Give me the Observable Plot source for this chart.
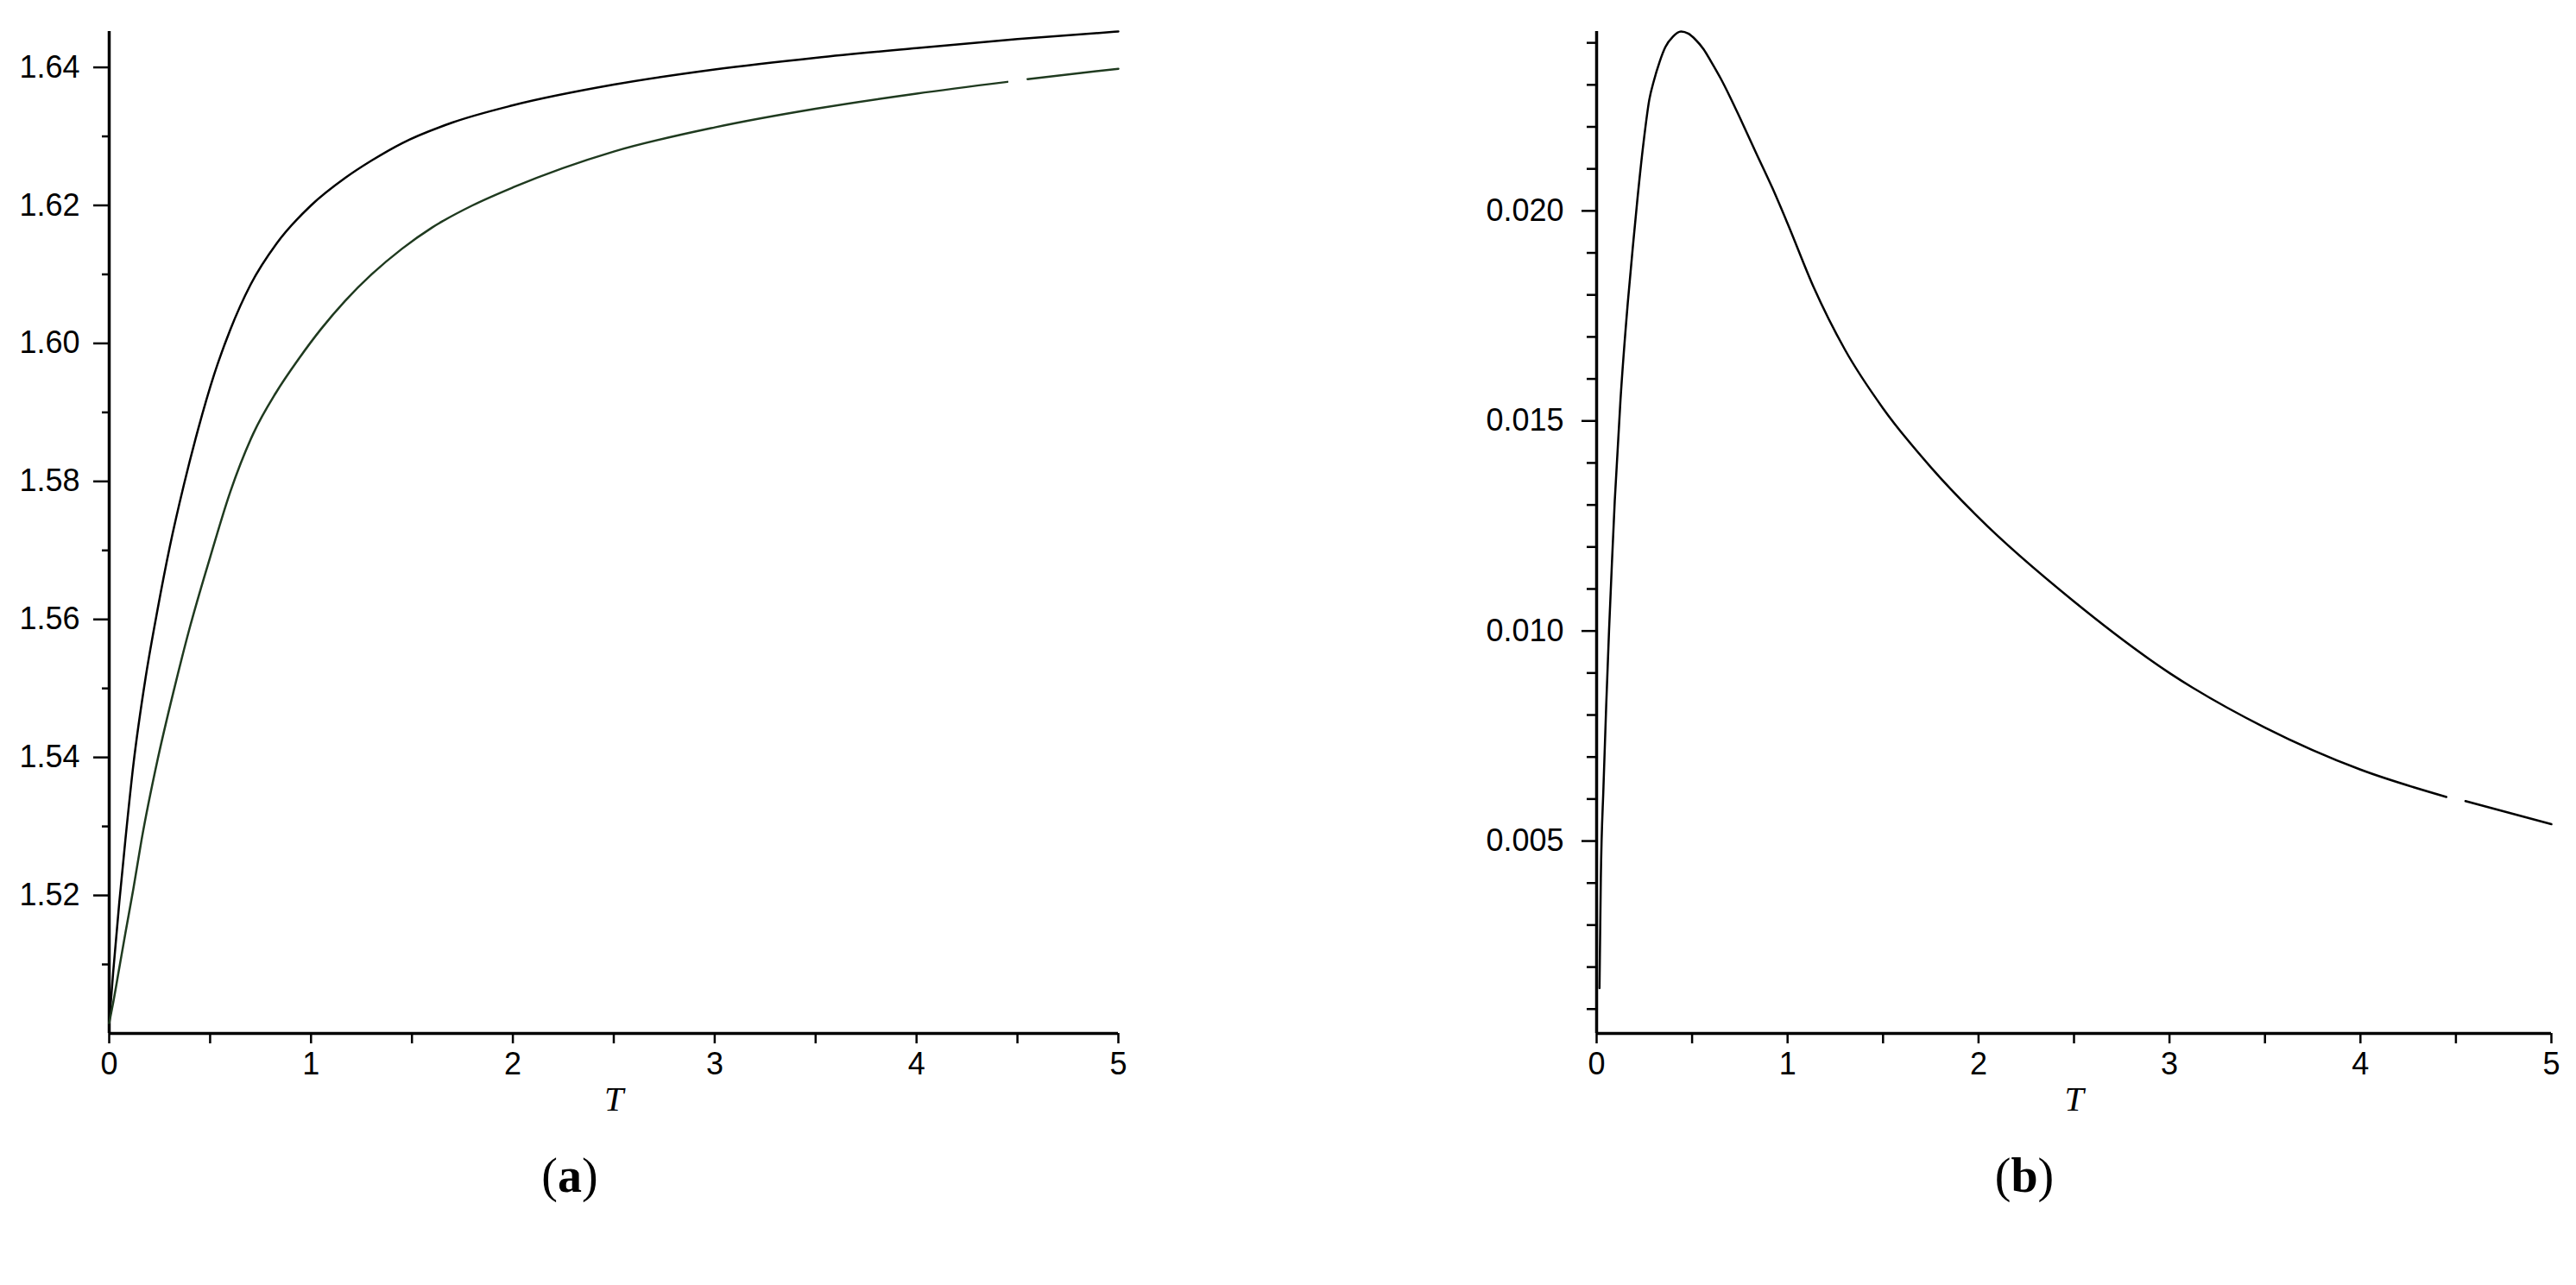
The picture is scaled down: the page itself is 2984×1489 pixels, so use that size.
<!DOCTYPE html>
<html><head><meta charset="utf-8">
<script src="https://cdn.jsdelivr.net/npm/d3@7"></script>
<script src="https://cdn.jsdelivr.net/npm/@observablehq/plot@0.6"></script>
<style>
html,body{margin:0;padding:0;background:#fff;overflow:hidden;}
#wrap{position:relative;width:2984px;height:1489px;background:#fff;overflow:hidden;}
.panel{position:absolute;top:0;}
.cap{position:absolute;font-family:"Liberation Serif","Times New Roman",serif;font-size:56px;color:#000;transform:translate(-50%,-50%);white-space:nowrap;}
</style></head><body>
<div id="wrap">
  <div id="pa" class="panel" style="left:0px"></div>
  <div id="pb" class="panel" style="left:1700px"></div>
  <div class="cap" style="left:660px;top:1362px">(<b>a</b>)</div>
  <div class="cap" style="left:2345px;top:1362px">(<b>b</b>)</div>
</div>
<script>
// ---- Panel (a): two curves vs T ----
const tUpper = [0, 0.02, 0.05, 0.08, 0.12, 0.18, 0.24, 0.30, 0.37, 0.44, 0.52, 0.60, 0.70, 0.83, 1.0, 1.17, 1.3, 1.45, 1.7, 2.0, 2.5, 3.0, 3.5, 4.0, 4.5, 5.0];
const gUpper = [1.5015, 1.509, 1.519, 1.528, 1.539, 1.5515, 1.5615, 1.5705, 1.5795, 1.5875, 1.5955, 1.6020, 1.6085, 1.6145, 1.6200, 1.6240, 1.6265, 1.6290, 1.6320, 1.6345, 1.6375, 1.6397, 1.6414, 1.6428, 1.6441, 1.6452];
const tLower = [0, 0.02, 0.05, 0.08, 0.12, 0.16, 0.24, 0.32, 0.40, 0.50, 0.60, 0.715, 0.825, 0.94, 1.05, 1.17, 1.3, 1.45, 1.6, 1.8, 2.0, 2.5, 3.0, 3.5, 4.0, 4.45, 4.5, 4.55, 5.0];
const gLower = [1.5015, 1.5045, 1.5095, 1.5145, 1.521, 1.528, 1.5397, 1.5497, 1.5589, 1.5690, 1.5785, 1.5870, 1.5928, 1.5978, 1.6021, 1.6062, 1.6100, 1.6137, 1.6168, 1.6200, 1.6226, 1.6278, 1.6313, 1.6340, 1.6362, 1.6379, null, 1.6383, 1.6398];
const aMajorTicks = [1.52, 1.54, 1.56, 1.58, 1.60, 1.62, 1.64];
const aMinorTicks = [1.51, 1.53, 1.55, 1.57, 1.59, 1.61, 1.63];
const aDomain = [1.50, 1.6452];

// ---- Panel (b): single curve vs T ----
const tB = [0.015, 0.022, 0.036, 0.05, 0.065, 0.08, 0.095, 0.125, 0.163, 0.193, 0.212, 0.245, 0.276, 0.30, 0.33, 0.36, 0.40, 0.442, 0.48, 0.517, 0.56, 0.60, 0.65, 0.70, 0.75, 0.833, 0.92, 1.0, 1.135, 1.3, 1.5, 1.75, 2.0, 2.5, 3.0, 3.5, 4.0, 4.45, 4.5, 4.55, 5.0];
const gB = [0.0015, 0.0041, 0.0063, 0.0082, 0.0100, 0.0116, 0.0131, 0.0155, 0.0178, 0.0193, 0.0202, 0.0216, 0.02265, 0.0231, 0.02355, 0.0239, 0.02415, 0.02427, 0.02422, 0.02408, 0.02385, 0.02355, 0.02315, 0.0227, 0.02222, 0.0214, 0.02055, 0.0197, 0.0182, 0.0167, 0.0153, 0.0139, 0.0127, 0.0107, 0.0090, 0.0077, 0.0067, 0.00605, null, 0.00595, 0.0054];
const bMajorTicks = [0.005, 0.010, 0.015, 0.020];
const bMinorTicks = [0.001, 0.002, 0.003, 0.004, 0.006, 0.007, 0.008, 0.009, 0.011, 0.012, 0.013, 0.014, 0.016, 0.017, 0.018, 0.019, 0.021, 0.022, 0.023, 0.024];
const bDomain = [0.00042, 0.02427];

const xMajorTicks = [0, 1, 2, 3, 4, 5];
const xMinorTicks = [0.5, 1.5, 2.5, 3.5, 4.5];
const xDomain = [0, 5];
const xLabel = "T";

const lowerColor = "#1f3a1f";
const tickFont = "'Liberation Sans', Arial, sans-serif";

function panel({width, marginLeft, marginRight, yDomain, majors, minors, fmt, majorSize, minorSize, pad, lines}) {
  return Plot.plot({
    width, height: 1320,
    marginLeft, marginRight, marginTop: 36, marginBottom: 123,
    x: {domain: xDomain, axis: null, label: null},
    y: {domain: yDomain, axis: null, label: null},
    style: {fontFamily: tickFont, fontSize: "36px", background: "white", color: "black", overflow: "visible"},
    marks: [
      Plot.axisY(majors, {tickSize: majorSize, tickPadding: pad, tickFormat: d3.format(fmt), strokeWidth: 2.5, fontSize: 36, label: null}),
      Plot.axisY(minors, {tickSize: minorSize, tickFormat: () => "", strokeWidth: 2.5, label: null}),
      Plot.axisX(xMajorTicks, {tickSize: 12, tickPadding: 10, tickFormat: d3.format("d"), strokeWidth: 2.5, fontSize: 36, label: null}),
      Plot.axisX(xMinorTicks, {tickSize: 12, tickFormat: () => "", strokeWidth: 2.5, label: null}),
      Plot.ruleX([xDomain[0]], {y1: yDomain[0], y2: yDomain[1], stroke: "black", strokeWidth: 3.5}),
      Plot.ruleY([yDomain[0]], {x1: xDomain[0], x2: xDomain[1], stroke: "black", strokeWidth: 3.5}),
      ...lines,
      Plot.text([xLabel], {frameAnchor: "bottom", dy: 89, fontFamily: "'Liberation Serif', serif", fontStyle: "italic", fontSize: 40, fill: "black"})
    ]
  });
}

const upper = tUpper.map((t, i) => ({T: t, v: gUpper[i]}));
const lower = tLower.map((t, i) => ({T: t, v: gLower[i]}));
const diff = tB.map((t, i) => ({T: t, v: gB[i]}));

const plotA = panel({
  width: 1340, marginLeft: 126, marginRight: 45, yDomain: aDomain,
  majors: aMajorTicks, minors: aMinorTicks, fmt: ".2f", majorSize: 18, minorSize: 8, pad: 16,
  lines: [
    Plot.line(upper, {x: "T", y: "v", stroke: "black", strokeWidth: 2.5, curve: "monotone-x"}),
    Plot.line(lower, {x: "T", y: "v", stroke: lowerColor, strokeWidth: 2.5, curve: "monotone-x"})
  ]
});
const plotB = panel({
  width: 1284, marginLeft: 149, marginRight: 29, yDomain: bDomain,
  majors: bMajorTicks, minors: bMinorTicks, fmt: ".3f", majorSize: 17, minorSize: 11, pad: 21,
  lines: [
    Plot.line(diff, {x: "T", y: "v", stroke: "black", strokeWidth: 2.5, curve: "monotone-x"})
  ]
});
document.getElementById("pa").appendChild(plotA);
document.getElementById("pb").appendChild(plotB);
</script>
</body></html>
